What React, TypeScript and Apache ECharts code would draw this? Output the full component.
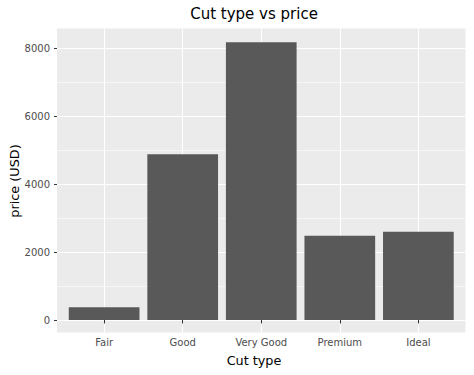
import React, { useEffect, useRef } from 'react';
import * as echarts from 'echarts';

// ---- data ----
const categories = ['Fair', 'Good', 'Very Good', 'Premium', 'Ideal'];
const prices = [375, 4880, 8180, 2480, 2600];
const yTickMax = 8000;
const yTickStep = 2000;
const chartTitle = 'Cut type vs price';
const xTitle = 'Cut type';
const yTitle = 'price (USD)';

// ---- layout ----
const W = 474;
const H = 375;
const panelLeft = 57;
const panelRight = 465.5;
const panelTop = 28.5;
const panelBottom = 332.5;
const zeroY = 320;
const topTickY = 48.3;
const band = (panelRight - panelLeft) / (categories.length - 1 + 1.2);
const barYMax = (yTickMax * (zeroY - panelTop)) / (zeroY - topTickY);

const FONT = 'DejaVu Sans';
const TICK_TEXT = '#4D4D4D';

export default function App() {
  const ref = useRef<HTMLDivElement>(null);
  useEffect(() => {
    if (!ref.current) return;
    const chart = echarts.init(ref.current, null, { renderer: 'svg' });
    const hidden = (gridIndex: number) => ({ gridIndex, type: 'value', show: false });
    chart.setOption({
      animation: false,
      backgroundColor: '#FFFFFF',
      grid: [
        // panel background
        {
          left: panelLeft, top: panelTop, width: panelRight - panelLeft, height: panelBottom - panelTop,
          show: true, backgroundColor: '#EBEBEB', borderWidth: 0, containLabel: false,
        },
        // horizontal gridlines + y labels
        {
          left: panelLeft, top: topTickY, width: panelRight - panelLeft, height: zeroY - topTickY,
          containLabel: false,
        },
        // vertical gridlines at category centers
        {
          left: panelLeft + 0.6 * band, top: panelTop, width: (categories.length - 1) * band,
          height: panelBottom - panelTop, containLabel: false,
        },
        // bars
        {
          left: panelLeft + 0.1 * band, top: panelTop, width: categories.length * band,
          height: zeroY - panelTop, containLabel: false,
        },
      ],
      xAxis: [
        hidden(0),
        hidden(1),
        {
          gridIndex: 2, type: 'value', min: 0, max: categories.length - 1, interval: 1,
          axisLine: { show: false }, axisTick: { show: false }, axisLabel: { show: false },
          splitLine: { show: true, lineStyle: { color: '#FFFFFF', width: 1.1 } },
        },
        {
          gridIndex: 3, type: 'category', data: categories, offset: panelBottom - zeroY,
          axisLine: { show: false },
          axisTick: { show: true, alignWithLabel: true, length: 3.5, lineStyle: { color: '#333333', width: 1 } },
          axisLabel: { color: TICK_TEXT, fontSize: 10, fontFamily: FONT, margin: 4.5 },
          splitLine: { show: false },
        },
      ],
      yAxis: [
        hidden(0),
        {
          gridIndex: 1, type: 'value', min: 0, max: yTickMax, interval: yTickStep,
          axisLine: { show: false },
          axisTick: { show: true, length: 3, lineStyle: { color: '#333333', width: 1 } },
          axisLabel: {
            color: TICK_TEXT, fontSize: 10, fontFamily: FONT, margin: 7,
            formatter: (v: number) => String(v),
          },
          splitLine: { show: true, lineStyle: { color: '#FFFFFF', width: 1.1 } },
          minorTick: { show: false, splitNumber: 2 },
          minorSplitLine: { show: true, lineStyle: { color: '#FFFFFF', width: 0.55 } },
        },
        hidden(2),
        { gridIndex: 3, type: 'value', min: 0, max: barYMax, show: false },
      ],
      series: [
        {
          type: 'bar',
          xAxisIndex: 3,
          yAxisIndex: 3,
          data: prices,
          barWidth: '90%',
          itemStyle: { color: '#595959' },
          z: 3,
        },
      ],
      graphic: [
        {
          type: 'text', x: 254, y: 13.5,
          style: { text: chartTitle, fill: '#000000', font: `15px "${FONT}"`, align: 'center', verticalAlign: 'middle' },
        },
        {
          type: 'text', x: 254, y: 360.5,
          style: { text: xTitle, fill: '#000000', font: `12.8px "${FONT}"`, align: 'center', verticalAlign: 'middle' },
        },
        {
          type: 'text', x: 14.7, y: 181, rotation: Math.PI / 2,
          style: { text: yTitle, fill: '#000000', font: `12.8px "${FONT}"`, align: 'center', verticalAlign: 'middle' },
        },
      ],
    });
    return () => chart.dispose();
  }, []);
  return (
    <div
      ref={ref}
      style={{ position: 'absolute', left: 0, top: 0, width: W, height: H }}
    />
  );
}
